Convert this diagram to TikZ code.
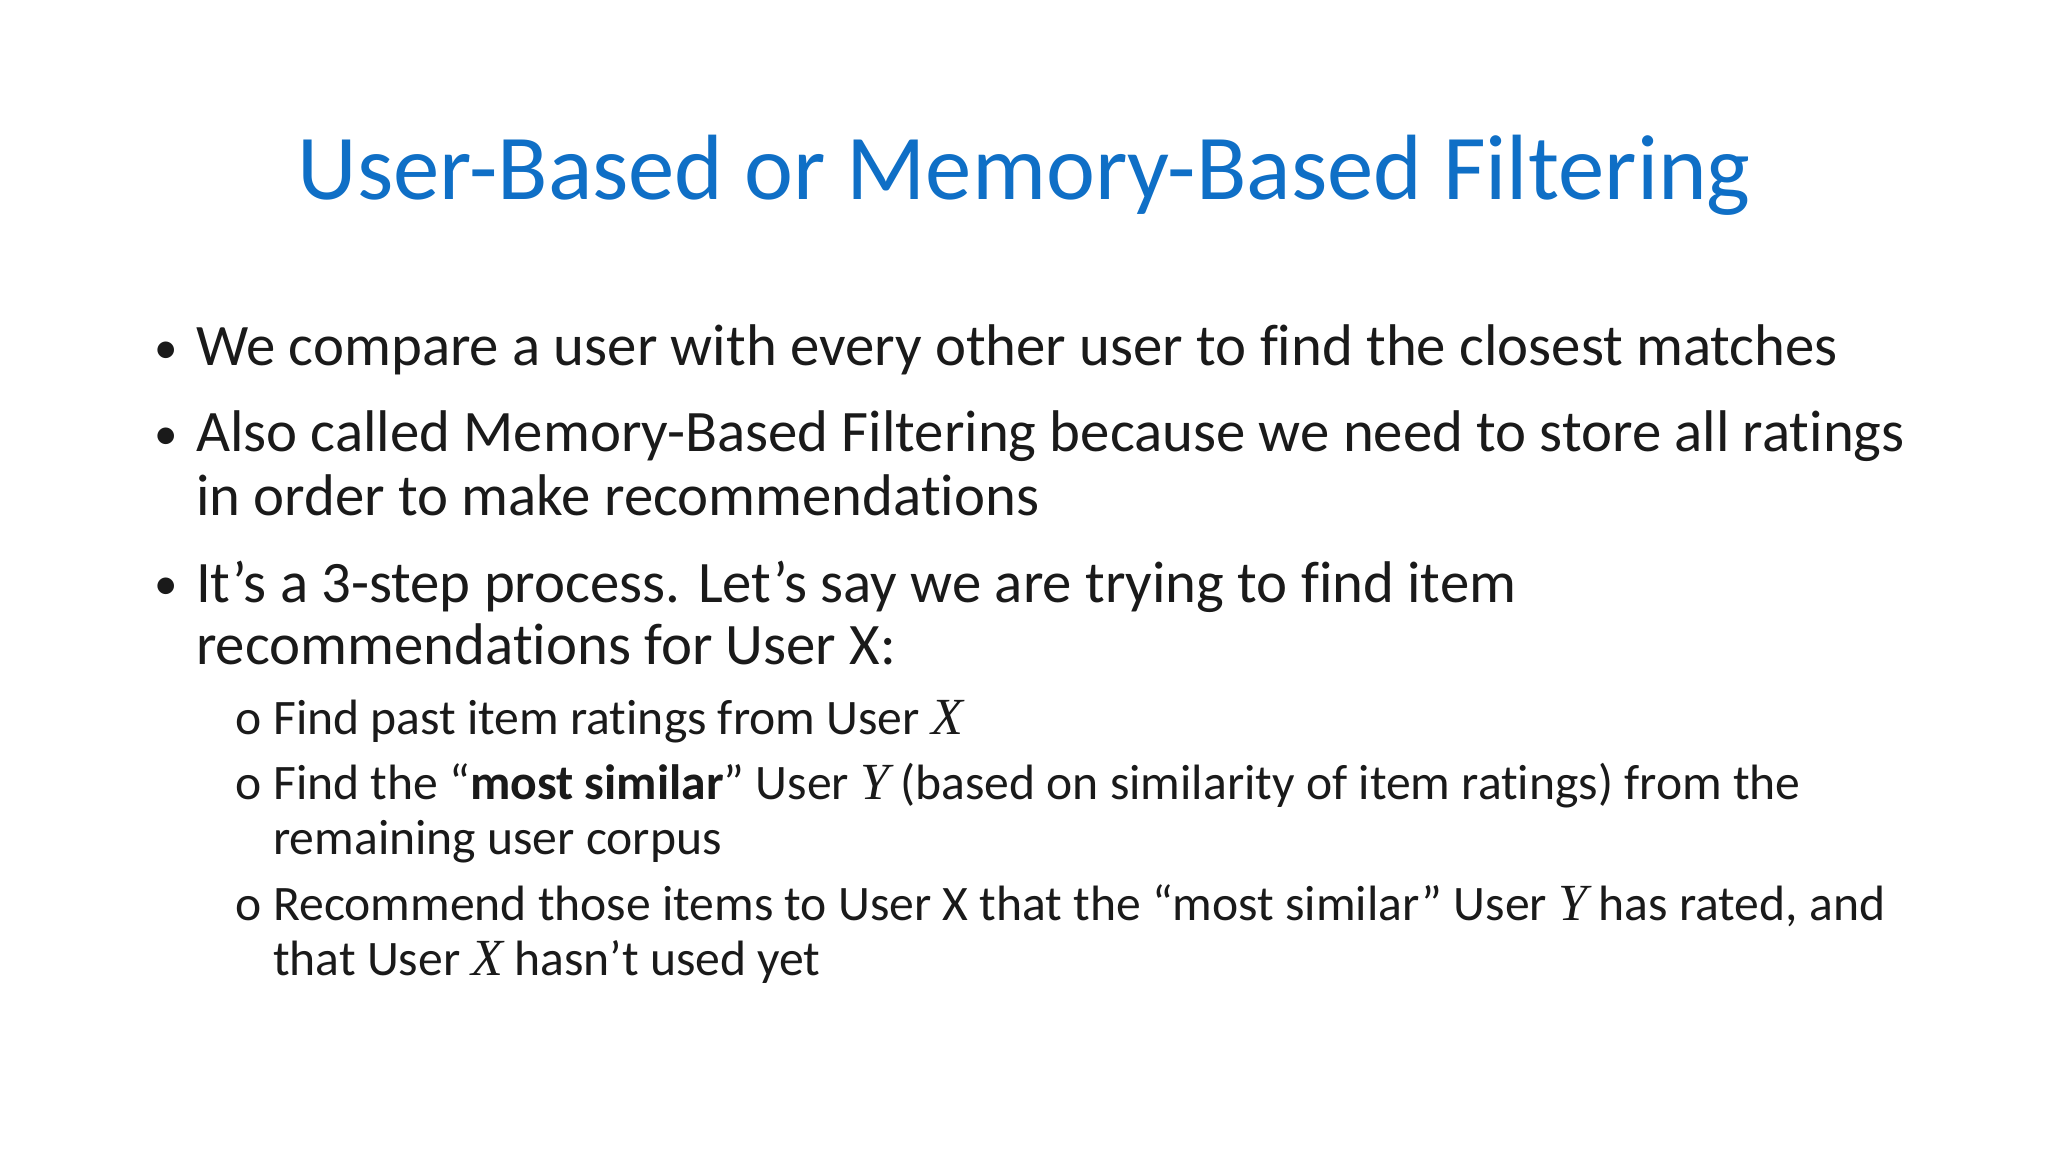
\documentclass[tikz,border=0pt]{standalone}
\usepackage{fontspec}
\setmainfont{Carlito}[RawFeature={-liga;-clig;-dlig}]
\newfontfamily\varfont{Liberation Serif}[Scale=1.05]
\newcommand{\vx}[1]{{\varfont\itshape #1}}
\definecolor{titleblue}{HTML}{0F6FC6}
\definecolor{txt}{HTML}{1A1A1A}
\begin{document}
\begin{tikzpicture}[x=1pt,y=-1pt,
  line/.style={anchor=base west,inner sep=0pt,text=txt,font=\fontsize{45}{52}\selectfont},
  bul/.style={anchor=base west,inner sep=0pt,text=txt,font=\fontsize{36}{40}\selectfont},
  sub/.style={anchor=base west,inner sep=0pt,text=txt,font=\fontsize{38}{44}\selectfont}]
\useasboundingbox[fill=white] (0,0) rectangle (1568,882);
\node[anchor=base,inner sep=0pt,text=titleblue,font=\fontsize{71}{84}\selectfont] (title) at (784,153) {User-Based or Memory-Based Filtering};
\node[bul] (b1) at (118,278) {•};
\node[line] (l1) at (150,280) {We compare a user with every other user to find the closest matches};
\node[bul] (b2) at (118,344) {•};
\node[line] (l2) at (150,346) {Also called Memory-Based Filtering because we need to store all ratings};
\node[line] (l3) at (150,395) {in order to make recommendations};
\node[bul] (b3) at (118,459) {•};
\node[line] (l4) at (150,461) {It’s a 3-step process. Let’s say we are trying to find item};
\node[line] (l5) at (150,509) {recommendations for User X:};
\node[sub] (s1b) at (180,562) {o};
\node[sub] (s1) at (209,562) {Find past item ratings from User \vx{X}};
\node[sub] (s2b) at (180,612) {o};
\node[sub] (s2) at (209,612) {Find the “\textbf{most similar}” User \vx{Y} (based on similarity of item ratings) from the};
\node[sub] (s2c) at (209,654) {remaining user corpus};
\node[sub] (s3b) at (180,705) {o};
\node[sub] (s3) at (209,705) {Recommend those items to User X that the “most similar” User \vx{Y} has rated, and};
\node[sub] (s3c) at (209,747) {that User \vx{X} hasn’t used yet};
\end{tikzpicture}
\end{document}
